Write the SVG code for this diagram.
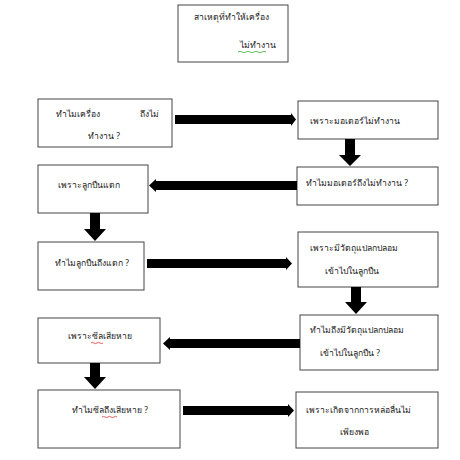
<svg xmlns="http://www.w3.org/2000/svg" width="460" height="460" viewBox="0 0 460 460">
<style>
.box{fill:#fff;stroke:#444;stroke-width:1}
.t{font-family:"Noto Sans","DejaVu Sans",sans-serif;font-size:8.6px;fill:#222}
.bar{fill:#000}
.sq{fill:none;stroke-width:0.8}
</style>
<rect width="460" height="460" fill="#fff"/>
<g id="n0"><rect class="box" x="178" y="5" width="110" height="57"/><text class="t" x="231" y="20" text-anchor="middle">สาเหตุที่ทำให้เครื่อง</text><text class="t" x="240" y="48">ไม่ทำงาน</text><path class="sq" stroke="#3a3" d="M238 52 q2 -1.5 4 0 t4 0 t4 0 t4 0 t4 0 t4 0 t4 0"/></g>
<g id="n1"><rect class="box" x="38" y="99" width="134" height="48"/><text class="t" x="56" y="117">ทำไมเครื่อง</text><text class="t" x="140" y="117">ถึงไม่</text><text class="t" x="88" y="139">ทำงาน ?</text></g>
<g id="n2"><rect class="box" x="298" y="101" width="140" height="38"/><text class="t" x="310" y="124">เพราะมอเตอร์ไม่ทำงาน</text></g>
<g id="n3"><rect class="box" x="297" y="167" width="141" height="38"/><text class="t" x="306" y="186">ทำไมมอเตอร์ถึงไม่ทำงาน ?</text></g>
<g id="n4"><rect class="box" x="38" y="165" width="110" height="48"/><text class="t" x="58" y="188">เพราะลูกปืนแตก</text></g>
<g id="n5"><rect class="box" x="38" y="242" width="106" height="48"/><text class="t" x="55" y="266">ทำไมลูกปืนถึงแตก ?</text></g>
<g id="n6"><rect class="box" x="298" y="232" width="140" height="55"/><text class="t" x="354" y="251" text-anchor="middle">เพราะมีวัตถุแปลกปลอม</text><text class="t" x="352" y="274" text-anchor="middle">เข้าไปในลูกปืน</text></g>
<g id="n7"><rect class="box" x="300" y="315" width="138" height="55"/><text class="t" x="357" y="333" text-anchor="middle">ทำไมถึงมีวัตถุแปลกปลอม</text><text class="t" x="350" y="356" text-anchor="middle">เข้าไปในลูกปืน ?</text></g>
<g id="n8"><rect class="box" x="38" y="318" width="122" height="45"/><text class="t" x="68" y="339">เพราะซีลเสียหาย</text><path class="sq" stroke="#d33" d="M91 343 q1.5 -1.2 3 0 t3 0 t3 0 t3 0"/></g>
<g id="n9"><rect class="box" x="38" y="390" width="142" height="58"/><text class="t" x="72" y="413">ทำไมซีลถึงเสียหาย ?</text><path class="sq" stroke="#d33" d="M102 417 q1.5 -1.2 3 0 t3 0 t3 0 t3 0 t3 0"/></g>
<g id="n10"><rect class="box" x="296" y="392" width="142" height="56"/><text class="t" x="306" y="413">เพราะเกิดจากการหล่อลื่นไม่</text><text class="t" x="340" y="435">เพียงพอ</text></g>
<g id="connectors">
<polygon class="bar" points="175,115 291,115 291,113 296,119.5 291,126 291,124 175,124"/>
<polygon class="bar" points="345,139 355,139 355,155 361,155 350,166 339,155 345,155"/>
<polygon class="bar" points="297,181 156,181 156,179 149,185.5 156,192 156,190 297,190"/>
<polygon class="bar" points="90,213 100,213 100,229 106,229 95,241 84,229 90,229"/>
<polygon class="bar" points="147,259 286,259 286,257 292,263.5 286,270 286,268 147,268"/>
<polygon class="bar" points="351,287 361,287 361,302 367,302 356,314 345,302 351,302"/>
<polygon class="bar" points="300,339 170,339 170,337 163,343.5 170,350 170,348 300,348"/>
<polygon class="bar" points="90,363 100,363 100,377 106,377 95,389 84,377 90,377"/>
<polygon class="bar" points="183,406 288,406 288,404 294,410.5 288,417 288,415 183,415"/>
</g>
</svg>
